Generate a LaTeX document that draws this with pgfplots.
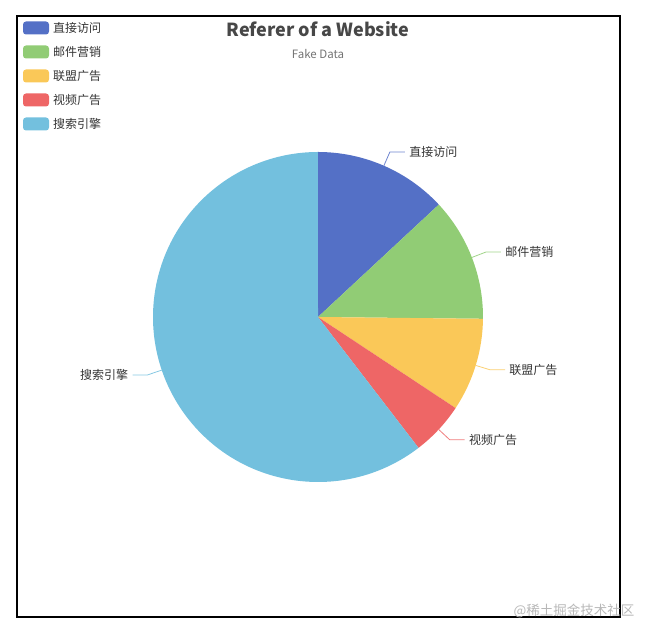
\documentclass[border=0pt]{standalone}
\usepackage{pgfplots}
\pgfplotsset{compat=1.18}
\usepackage{fontspec}
\setmainfont{Noto Sans CJK SC}
\definecolor{cA}{HTML}{5470C6}
\definecolor{cB}{HTML}{91CC75}
\definecolor{cC}{HTML}{FAC858}
\definecolor{cD}{HTML}{EE6666}
\definecolor{cE}{HTML}{73C0DE}
\definecolor{txt}{HTML}{333333}
% data
\def\vA{335}\def\vB{310}\def\vC{234}\def\vD{135}\def\vE{1548}
\pgfmathsetmacro\tot{\vA+\vB+\vC+\vD+\vE}
\pgfmathsetmacro\aA{90}
\pgfmathsetmacro\aB{\aA-\vA/\tot*360}
\pgfmathsetmacro\aC{\aB-\vB/\tot*360}
\pgfmathsetmacro\aD{\aC-\vC/\tot*360}
\pgfmathsetmacro\aE{\aD-\vD/\tot*360}
\pgfmathsetmacro\aF{\aE-\vE/\tot*360}
\pgfmathsetmacro\mA{(\aA+\aB)/2}
\pgfmathsetmacro\mB{(\aB+\aC)/2}
\pgfmathsetmacro\mC{(\aC+\aD)/2}
\pgfmathsetmacro\mD{(\aD+\aE)/2}
\pgfmathsetmacro\mE{(\aE+\aF)/2}
\begin{document}
\begin{tikzpicture}
\begin{axis}[width=654pt,height=639pt,scale only axis,
  xmin=0,xmax=654,ymin=0,ymax=639,hide axis,clip=false]
\addplot[draw=none] coordinates {(0,0) (654,639)};
% frame
\draw[black,line width=1.6pt] (axis cs:17,623) rectangle (axis cs:620,22);
% wedges
\def\cx{318}\def\cy{322}
\fill[cA] (axis cs:\cx,\cy) -- ++(\aA:165pt) arc[start angle=\aA,end angle=\aB,radius=165pt] -- cycle;
\fill[cB] (axis cs:\cx,\cy) -- ++(\aB:165pt) arc[start angle=\aB,end angle=\aC,radius=165pt] -- cycle;
\fill[cC] (axis cs:\cx,\cy) -- ++(\aC:165pt) arc[start angle=\aC,end angle=\aD,radius=165pt] -- cycle;
\fill[cD] (axis cs:\cx,\cy) -- ++(\aD:165pt) arc[start angle=\aD,end angle=\aE,radius=165pt] -- cycle;
\fill[cE] (axis cs:\cx,\cy) -- ++(\aE:165pt) arc[start angle=\aE,end angle=\aF,radius=165pt] -- cycle;
% label lines
\draw[cA!85,line width=0.8pt] ([shift={(\mA:165pt)}]axis cs:\cx,\cy) -- ([shift={(\mA:180pt)}]axis cs:\cx,\cy) -- ++(15pt,0) node[right,text=txt,font=\fontsize{12}{13}\selectfont,inner sep=4pt]{直接访问};
\draw[cB!85,line width=0.8pt] ([shift={(\mB:165pt)}]axis cs:\cx,\cy) -- ([shift={(\mB:180pt)}]axis cs:\cx,\cy) -- ++(15pt,0) node[right,text=txt,font=\fontsize{12}{13}\selectfont,inner sep=4pt]{邮件营销};
\draw[cC!85,line width=0.8pt] ([shift={(\mC:165pt)}]axis cs:\cx,\cy) -- ([shift={(\mC:180pt)}]axis cs:\cx,\cy) -- ++(15pt,0) node[right,text=txt,font=\fontsize{12}{13}\selectfont,inner sep=4pt]{联盟广告};
\draw[cD!85,line width=0.8pt] ([shift={(\mD:165pt)}]axis cs:\cx,\cy) -- ([shift={(\mD:180pt)}]axis cs:\cx,\cy) -- ++(15pt,0) node[right,text=txt,font=\fontsize{12}{13}\selectfont,inner sep=4pt]{视频广告};
\draw[cE!85,line width=0.8pt] ([shift={(\mE:165pt)}]axis cs:\cx,\cy) -- ([shift={(\mE:180pt)}]axis cs:\cx,\cy) -- ++(-15pt,0) node[left,text=txt,font=\fontsize{12}{13}\selectfont,inner sep=4pt]{搜索引擎};
% title
\node[text=txt!90,font=\fontsize{18}{20}\selectfont\bfseries] at (axis cs:318,610) {Referer of a Website};
\node[text=black!55,font=\fontsize{11.5}{12}\selectfont] at (axis cs:318,585) {Fake Data};
% legend
\foreach \c/\t/\yy in {cA/直接访问/611, cB/邮件营销/587, cC/联盟广告/563, cD/视频广告/539, cE/搜索引擎/515}{
  \edef\tmp{\noexpand\fill[\c,rounded corners=3pt] (axis cs:23,\yy-6.5) rectangle (axis cs:49,\yy+6.5);
  \noexpand\node[anchor=west,text=txt,font=\noexpand\fontsize{12}{13}\noexpand\selectfont,inner sep=0pt] at (axis cs:53,\yy) {\t};}
  \tmp
}
% watermark
\node[anchor=east,text=black!28,font=\fontsize{13.5}{14}\selectfont] at (axis cs:638,28) {@稀土掘金技术社区};
\end{axis}
\end{tikzpicture}
\end{document}
